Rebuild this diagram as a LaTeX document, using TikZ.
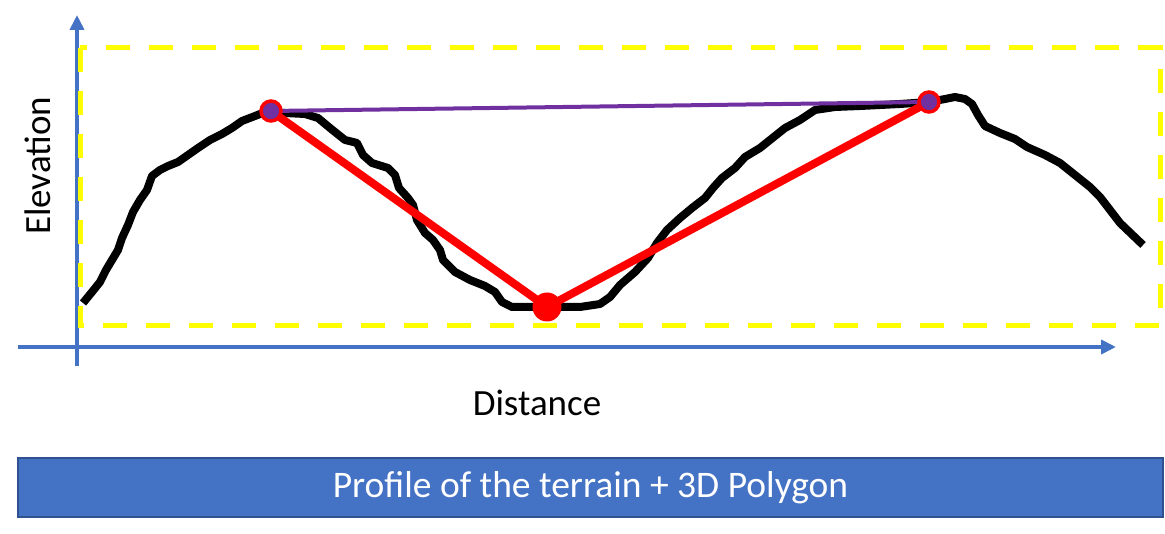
\documentclass[tikz,border=0pt]{standalone}
\usepackage{fontspec}
\setmainfont{Carlito}
\usetikzlibrary{arrows.meta}
\definecolor{axblue}{HTML}{4472C4}
\definecolor{bandedge}{HTML}{2F528F}
\definecolor{polypurple}{HTML}{7030A0}
\definecolor{boxyellow}{HTML}{FFFF00}
\pgfdeclarelayer{bg}
\pgfsetlayers{bg,main}
\tikzset{
  axis/.style={draw=axblue, line width=4pt, -{Triangle[length=15pt,width=14pt]}},
  bbox/.style={draw=boxyellow, line width=5pt, dash pattern=on 24pt off 19pt},
  terrain/.style={draw=black, line width=8pt, line join=round},
  edgered/.style={draw=red, line width=8pt},
  edgepurple/.style={draw=polypurple, line width=4pt},
  vtx/.style={circle, inner sep=0pt, minimum size=20pt, fill=polypurple, draw=red, line width=3.5pt},
  lowvtx/.style={circle, inner sep=0pt, minimum size=29pt, fill=red},
  lbl/.style={font=\fontsize{37}{42}\selectfont, inner sep=0pt},
  banner/.style={draw=bandedge, line width=1.5pt, fill=axblue, text=white, minimum width=1145pt, minimum height=59pt, inner sep=0pt, font=\fontsize{37.5}{42}\selectfont}
}
\begin{document}
\begin{tikzpicture}[x=1pt,y=-1pt]
\useasboundingbox (0,0) rectangle (1165,534);
% points of the polygon
\node[vtx] (p1) at (271,111) {};
\node[lowvtx] (p2) at (547,307) {};
\node[vtx] (p3) at (929,102) {};
% axes
\coordinate (ybot) at (77,366);
\coordinate (ytop) at (77,15);
\coordinate (xleft) at (18,347);
\coordinate (xright) at (1116,347);
\begin{pgfonlayer}{bg}
\draw[axis] (ybot) -- (ytop);
\draw[axis] (xleft) -- (xright);
\draw[bbox] (80,48) rectangle (1160,326);
\draw[terrain] (83,303) -- (92,292) -- (100,282) -- (106,270) -- (112,260) -- (118,250) -- (122,238) -- (128,225) -- (133,212) -- (140,200) -- (147,190) -- (152,176) -- (160,170) -- (168,166) -- (178,162) -- (188,155) -- (198,148) -- (210,140) -- (222,134) -- (232,128) -- (242,121) -- (255,116) -- (265,112) -- (285,113) -- (305,114) -- (318,118) -- (330,128) -- (345,140) -- (357,143) -- (363,155) -- (372,163) -- (388,168) -- (395,175) -- (399,188) -- (408,198) -- (413,205) -- (417,220) -- (425,233) -- (433,240) -- (440,250) -- (443,260) -- (455,272) -- (470,280) -- (485,286) -- (495,292) -- (502,302) -- (512,307) -- (547,307) -- (580,307) -- (600,304) -- (610,297) -- (620,285) -- (635,272) -- (648,258) -- (657,243) -- (667,230) -- (680,218) -- (692,208) -- (705,198) -- (713,188) -- (722,178) -- (735,168) -- (745,157) -- (760,148) -- (775,136) -- (785,128) -- (800,120) -- (815,110) -- (835,107) -- (860,106) -- (900,104) -- (929,102) -- (945,99) -- (955,97) -- (965,99) -- (972,104) -- (978,115) -- (985,126) -- (1000,133) -- (1015,139) -- (1027,147) -- (1045,155) -- (1060,163) -- (1075,175) -- (1090,187) -- (1100,197) -- (1110,210) -- (1120,223) -- (1143,245);
\draw[edgepurple] (p1.center) -- (p3.center);
\draw[edgered] (p1.center) -- (p2.center);
\draw[edgered] (p2.center) -- (p3.center);
\end{pgfonlayer}
% labels
\node[lbl, rotate=90] (elev) at (38,166) {Elevation};
\node[lbl] (dist) at (537,403) {Distance};
\node[banner] (title) at (590.5,487.5) {Profile of the terrain + 3D Polygon};
\end{tikzpicture}
\end{document}
